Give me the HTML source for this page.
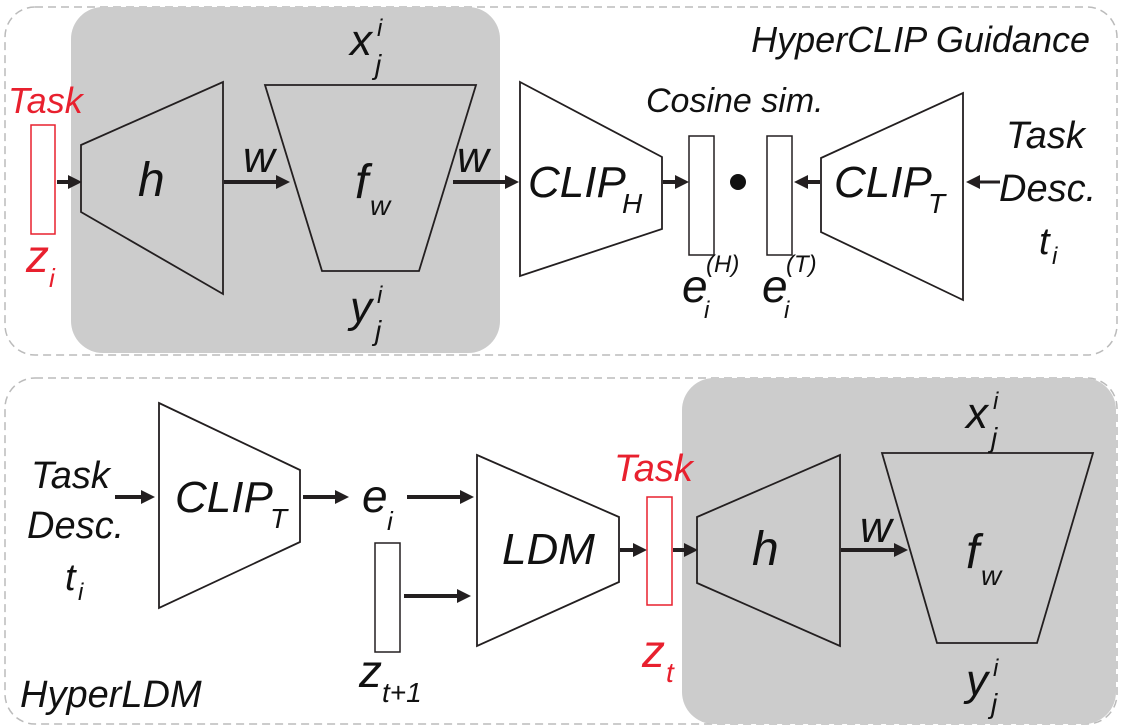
<!DOCTYPE html>
<html><head><meta charset="utf-8"><style>
html,body{margin:0;padding:0;background:#fff;}
svg{display:block;}
text{font-family:"Liberation Sans",Arial,sans-serif;font-style:italic;fill:#111;}
.r{fill:#e8202e;}
</style></head><body>
<svg width="1126" height="727" viewBox="0 0 1126 727" xmlns="http://www.w3.org/2000/svg">
<defs>
<marker id="a" markerWidth="14" markerHeight="14" refX="10" refY="7" orient="auto" markerUnits="userSpaceOnUse" viewBox="0 0 14 14">
<path d="M0,0 L14,7 L0,14 z" fill="#231f20"/></marker>
</defs>
<!-- top panel -->
<rect x="5" y="7" width="1112" height="348" rx="30" fill="none" stroke="#bbb" stroke-width="1.5" stroke-dasharray="8,5"/>
<rect x="71" y="7" width="429" height="346" rx="32" fill="#cccccc"/>
<text x="8" y="113" font-size="36" class="r">Task</text>
<rect x="31" y="125" width="24" height="109" fill="#fff" stroke="#e8202e" stroke-width="1.5"/>
<text x="26" y="272" font-size="46" class="r">z</text><text x="49" y="287" font-size="26" class="r">i</text>
<g stroke="#231f20" stroke-width="2.5" fill="none">
<line x1="57" y1="182" x2="78" y2="182" stroke-width="4" marker-end="url(#a)"/>
<polygon points="81,145 223,82 223,294 81,212" stroke-width="1.8"/>
<line x1="224" y1="182" x2="286" y2="182" stroke-width="4" marker-end="url(#a)"/>
<polygon points="265,85 476,85 419,271 322,271" stroke-width="1.8"/>
<line x1="453" y1="182" x2="515" y2="182" stroke-width="4" marker-end="url(#a)"/>
<polygon points="520,82 662,157 662,229 520,276" fill="#fff" stroke-width="1.8"/>
<line x1="663" y1="182" x2="685" y2="182" stroke-width="4" marker-end="url(#a)"/>
<rect x="689" y="136" width="25" height="119" fill="#fff" stroke-width="1.5"/>
<rect x="767" y="136" width="25" height="119" fill="#fff" stroke-width="1.5"/>
<line x1="820" y1="182" x2="798" y2="182" stroke-width="4" marker-end="url(#a)"/>
<polygon points="821,158 963,93 963,300 821,232" fill="#fff" stroke-width="1.8"/>
<line x1="1000" y1="182" x2="970" y2="182" stroke-width="3" marker-end="url(#a)"/>
</g>
<circle cx="738" cy="182" r="8" fill="#111"/>
<text x="138" y="196" font-size="48">h</text>
<text x="243" y="172" font-size="44">w</text>
<text x="457" y="172" font-size="44">w</text>
<text x="350" y="55" font-size="44">x</text><text x="377" y="36" font-size="24">i</text><text x="375" y="74" font-size="28">j</text>
<text x="350" y="322" font-size="44">y</text><text x="377" y="303" font-size="24">i</text><text x="375" y="340" font-size="28">j</text>
<text x="355" y="198" font-size="48">f</text><text x="370" y="215" font-size="28">w</text>
<text x="528" y="197" font-size="44">CLIP</text><text x="622" y="213" font-size="28">H</text>
<text x="834" y="197" font-size="44">CLIP</text><text x="928" y="213" font-size="28">T</text>
<text x="646" y="112" font-size="34">Cosine sim.</text>
<text x="682" y="302" font-size="46">e</text><text x="704" y="318" font-size="24">i</text><text x="706" y="272" font-size="24">(H)</text>
<text x="762" y="302" font-size="46">e</text><text x="784" y="318" font-size="24">i</text><text x="786" y="272" font-size="24">(T)</text>
<text x="1006" y="148" font-size="38">Task</text>
<text x="999" y="201" font-size="38">Desc.</text>
<text x="1039" y="254" font-size="38">t</text><text x="1052" y="264" font-size="24">i</text>
<text x="1090" y="52" font-size="36" text-anchor="end">HyperCLIP Guidance</text>
<!-- bottom panel -->
<rect x="5" y="378" width="1112" height="346" rx="30" fill="none" stroke="#bbb" stroke-width="1.5" stroke-dasharray="8,5"/>
<rect x="682" y="378" width="434" height="346" rx="32" fill="#cccccc"/>
<g stroke="#231f20" stroke-width="2.5" fill="none">
<line x1="115" y1="497" x2="151" y2="497" stroke-width="4" marker-end="url(#a)"/>
<polygon points="159,403 300,470 300,542 159,608" fill="#fff" stroke-width="1.8"/>
<line x1="303" y1="497" x2="345" y2="497" stroke-width="4" marker-end="url(#a)"/>
<line x1="407" y1="497" x2="470" y2="497" stroke-width="4" marker-end="url(#a)"/>
<rect x="375" y="543" width="25" height="109" fill="#fff" stroke-width="1.5"/>
<line x1="404" y1="596" x2="467" y2="596" stroke-width="4" marker-end="url(#a)"/>
<polygon points="477,455 619,517 619,582 477,646" fill="#fff" stroke-width="1.8"/>
<line x1="620" y1="550" x2="643" y2="550" stroke-width="4" marker-end="url(#a)"/>
<line x1="673" y1="550" x2="694" y2="550" stroke-width="4" marker-end="url(#a)"/>
<polygon points="697,517 840,455 840,646 697,583" stroke-width="1.8"/>
<line x1="841" y1="550" x2="904" y2="550" stroke-width="4" marker-end="url(#a)"/>
<polygon points="882,453 1093,453 1037,643 937,643" stroke-width="1.8"/>
</g>
<rect x="647" y="497" width="25" height="108" fill="#fff" stroke="#e8202e" stroke-width="1.5"/>
<text x="614" y="481" font-size="38" class="r">Task</text>
<text x="642" y="667" font-size="46" class="r">z</text><text x="666" y="682" font-size="28" class="r">t</text>
<text x="31" y="488" font-size="38">Task</text>
<text x="27" y="538" font-size="38">Desc.</text>
<text x="65" y="590" font-size="38">t</text><text x="78" y="600" font-size="24">i</text>
<text x="175" y="512" font-size="44">CLIP</text><text x="270" y="528" font-size="28">T</text>
<text x="362" y="512" font-size="46">e</text><text x="387" y="530" font-size="26">i</text>
<text x="502" y="564" font-size="44">LDM</text>
<text x="359" y="687" font-size="46">z</text><text x="382" y="702" font-size="28">t+1</text>
<text x="20" y="707" font-size="38">HyperLDM</text>
<text x="752" y="565" font-size="48">h</text>
<text x="860" y="542" font-size="44">w</text>
<text x="966" y="568" font-size="48">f</text><text x="981" y="585" font-size="28">w</text>
<text x="966" y="428" font-size="44">x</text><text x="993" y="409" font-size="24">i</text><text x="991" y="447" font-size="28">j</text>
<text x="966" y="695" font-size="44">y</text><text x="993" y="676" font-size="24">i</text><text x="991" y="713" font-size="28">j</text>
</svg>
</body></html>
